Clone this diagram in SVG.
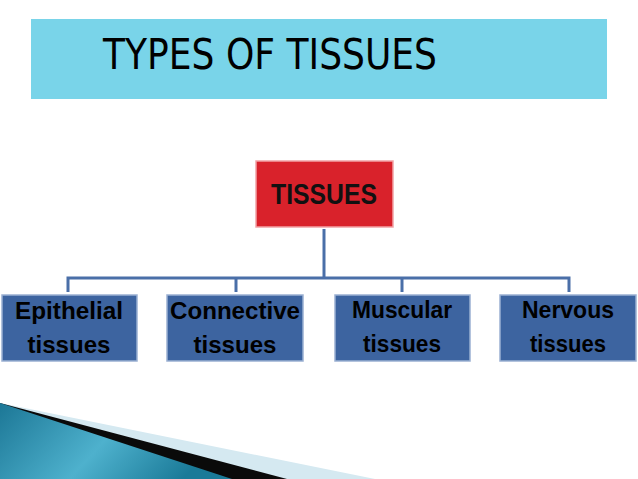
<svg xmlns="http://www.w3.org/2000/svg" width="638" height="479" viewBox="0 0 638 479">
  <defs>
    <style>
      .title { font-family: "DejaVu Sans", "Liberation Sans", sans-serif; font-size: 42px; fill: #000; }
      .root-box { fill: #d9222b; stroke: #f2a3a6; stroke-width: 1.5; }
      .leaf-box { fill: #3d64a0; stroke: #9ab0d2; stroke-width: 1.5; }
      .lbl { font-family: "Liberation Sans", "DejaVu Sans", sans-serif; font-weight: bold; font-size: 24px; fill: #000; text-anchor: middle; }
      .root-lbl { font-family: "Liberation Sans", "DejaVu Sans", sans-serif; font-weight: bold; font-size: 29px; fill: #111; text-anchor: middle; }
      .conn { fill: none; stroke: #4a6fa8; stroke-width: 3; }
    </style>
    <linearGradient id="swoosh" x1="0" y1="0" x2="1" y2="0.3">
      <stop offset="0" stop-color="#1c7796"/>
      <stop offset="0.55" stop-color="#4eb1cd"/>
      <stop offset="1" stop-color="#1a7a98"/>
    </linearGradient>
  </defs>

  <rect width="638" height="479" fill="#ffffff"/>

  <g id="title">
    <rect x="31" y="19" width="576" height="80" fill="#79d4e9"/>
    <text class="title" x="103" y="69" textLength="334" lengthAdjust="spacingAndGlyphs">TYPES OF TISSUES</text>
  </g>

  <g id="connectors">
    <path class="conn" d="M324 229 V278"/>
    <path class="conn" d="M68 292 V278 H569 V292"/>
    <path class="conn" d="M236 278 V292"/>
    <path class="conn" d="M402 278 V292"/>
  </g>

  <g id="tissues">
    <rect class="root-box" x="256" y="161" width="137" height="66"/>
    <text class="root-lbl" x="324" y="204" textLength="106" lengthAdjust="spacingAndGlyphs">TISSUES</text>
  </g>

  <g id="epithelial">
    <rect class="leaf-box" x="2" y="295" width="135" height="66"/>
    <text class="lbl" x="69" y="319" textLength="108" lengthAdjust="spacingAndGlyphs">Epithelial</text>
    <text class="lbl" x="69" y="353" textLength="83" lengthAdjust="spacingAndGlyphs">tissues</text>
  </g>

  <g id="connective">
    <rect class="leaf-box" x="167" y="295" width="136" height="66"/>
    <text class="lbl" x="235" y="319" textLength="130" lengthAdjust="spacingAndGlyphs">Connective</text>
    <text class="lbl" x="235" y="353" textLength="83" lengthAdjust="spacingAndGlyphs">tissues</text>
  </g>

  <g id="muscular">
    <rect class="leaf-box" x="335" y="295" width="135" height="66"/>
    <text class="lbl" x="402" y="318" textLength="100" lengthAdjust="spacingAndGlyphs">Muscular</text>
    <text class="lbl" x="402" y="352" textLength="78" lengthAdjust="spacingAndGlyphs">tissues</text>
  </g>

  <g id="nervous">
    <rect class="leaf-box" x="500" y="295" width="136" height="66"/>
    <text class="lbl" x="568" y="318" textLength="92" lengthAdjust="spacingAndGlyphs">Nervous</text>
    <text class="lbl" x="568" y="352" textLength="76" lengthAdjust="spacingAndGlyphs">tissues</text>
  </g>

  <g id="decoration">
    <polygon points="0,403 375,479 0,479" fill="#d5e9f1"/>
    <polygon points="0,403 287,479 0,479" fill="#0a0a0a"/>
    <polygon points="0,403 232,479 0,479" fill="url(#swoosh)"/>
  </g>
</svg>
